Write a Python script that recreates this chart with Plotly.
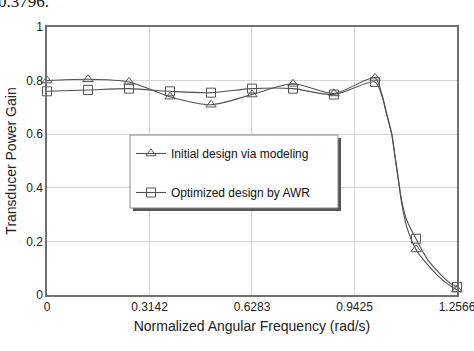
import plotly.graph_objects as go

# marker positions (normalized angular frequency, rad/s)
freq = [0, 0.1257, 0.2513, 0.3770, 0.5027, 0.6283, 0.7540, 0.8796, 1.0053, 1.1310, 1.2566]
gain_initial = [0.800, 0.805, 0.795, 0.740, 0.710, 0.748, 0.788, 0.752, 0.810, 0.170, 0.020]
gain_optim = [0.760, 0.765, 0.770, 0.760, 0.755, 0.770, 0.770, 0.748, 0.795, 0.210, 0.030]

# extra curve points read along the steep roll-off
drop_freq_initial = [1.0258, 1.0411, 1.0564, 1.0666, 1.0768, 1.0871, 1.1024, 1.165, 1.204, 1.235]
drop_gain_initial = [0.752, 0.678, 0.603, 0.516, 0.429, 0.342, 0.255, 0.115, 0.065, 0.035]
drop_freq_optim = [1.0258, 1.0411, 1.0564, 1.0666, 1.0768, 1.0871, 1.1024, 1.165, 1.204, 1.235]
drop_gain_optim = [0.745, 0.672, 0.600, 0.518, 0.435, 0.352, 0.280, 0.135, 0.080, 0.045]

x_ticks = [0, 0.3142, 0.6283, 0.9425, 1.2566]
x_tick_labels = ["0", "0.3142", "0.6283", "0.9425", "1.2566"]
y_ticks = [0, 0.2, 0.4, 0.6, 0.8, 1]
y_tick_labels = ["0", "0.2", "0.4", "0.6", "0.8", "1"]

names = ["Initial design via modeling", "Optimized design by AWR"]

def merged(xs, ys, ex, ey):
    pts = sorted(zip(list(xs) + list(ex), list(ys) + list(ey)))
    return [p[0] for p in pts], [p[1] for p in pts]

line_col = "#505050"
mark_col = "#555555"
fig = go.Figure()
series = [
    (gain_initial, drop_freq_initial, drop_gain_initial, "triangle-up-open", names[0]),
    (gain_optim, drop_freq_optim, drop_gain_optim, "square-open", names[1]),
]
for i, (g, ex, ey, sym, nm) in enumerate(series):
    lx, ly = merged(freq, g, ex, ey)
    fig.add_trace(go.Scatter(x=lx, y=ly, mode="lines", line=dict(color=line_col, width=1.1, shape="spline", smoothing=0.8),
                             showlegend=False, hoverinfo="skip", cliponaxis=False))
    fig.add_trace(go.Scatter(x=freq, y=g, mode="markers", marker=dict(symbol=sym, size=9, color=mark_col, line=dict(width=1, color=mark_col)),
                             showlegend=False, cliponaxis=False))
    fig.add_trace(go.Scatter(x=[None], y=[None], mode="lines+markers", name=nm, legendgroup="g%d" % i,
                             line=dict(color=line_col, width=1.1),
                             marker=dict(symbol=sym, size=9, color=mark_col, line=dict(width=1, color=mark_col))))

W, H = 474, 351
L, R, T, B = 47, 17, 27, 56
pw, ph = W - L - R, H - T - B
def px(x):
    return (x - L) / pw
def py(y):
    return (H - B - y) / ph

# legend box with shadow
box = (130, 135, 338, 208)
fig.add_shape(type="rect", xref="paper", yref="paper", x0=px(box[0] + 3), x1=px(box[2] + 3), y0=py(box[3] + 3), y1=py(box[1] + 3),
              fillcolor="#555555", line=dict(width=0), layer="above")
fig.add_shape(type="rect", xref="paper", yref="paper", x0=px(box[0]), x1=px(box[2]), y0=py(box[3]), y1=py(box[1]),
              fillcolor="white", line=dict(width=1, color="#888888"), layer="above")

fig.update_layout(
    width=W, height=H,
    margin=dict(l=L, r=R, t=T, b=B, autoexpand=False),
    paper_bgcolor="white", plot_bgcolor="white",
    font=dict(family="Liberation Sans, Arial", size=12, color="#222222"),
    showlegend=True,
    legend=dict(x=px(131), y=py(139), xanchor="left", yanchor="top", bgcolor="rgba(0,0,0,0)", borderwidth=0,
                tracegroupgap=20, font=dict(size=12, color="#111111"), itemwidth=30),
    annotations=[dict(text="0.3796.", xref="paper", yref="paper", x=px(-4), y=py(13), xanchor="left", yanchor="bottom",
                      showarrow=False, font=dict(family="Liberation Serif, Times New Roman", size=17, color="#111111"))],
)
fig.update_xaxes(range=[0, 1.25665], tickvals=x_ticks, ticktext=x_tick_labels, showgrid=True, gridcolor="#d4d4d4", gridwidth=1,
                 showline=True, linecolor="#707070", linewidth=1.5, mirror=True, zeroline=False, ticks="",
                 ticklabeloverflow="allow", automargin=False,
                 title=dict(text="Normalized Angular Frequency (rad/s)", standoff=8), tickfont=dict(size=12))
fig.update_yaxes(range=[0, 1], tickvals=y_ticks, ticktext=y_tick_labels, showgrid=True, gridcolor="#d4d4d4", gridwidth=1,
                 showline=True, linecolor="#707070", linewidth=1.5, mirror=True, zeroline=False, ticks="",
                 automargin=False,
                 title=dict(text="Transducer Power Gain", standoff=6), tickfont=dict(size=12))

fig.write_html("out.html")
